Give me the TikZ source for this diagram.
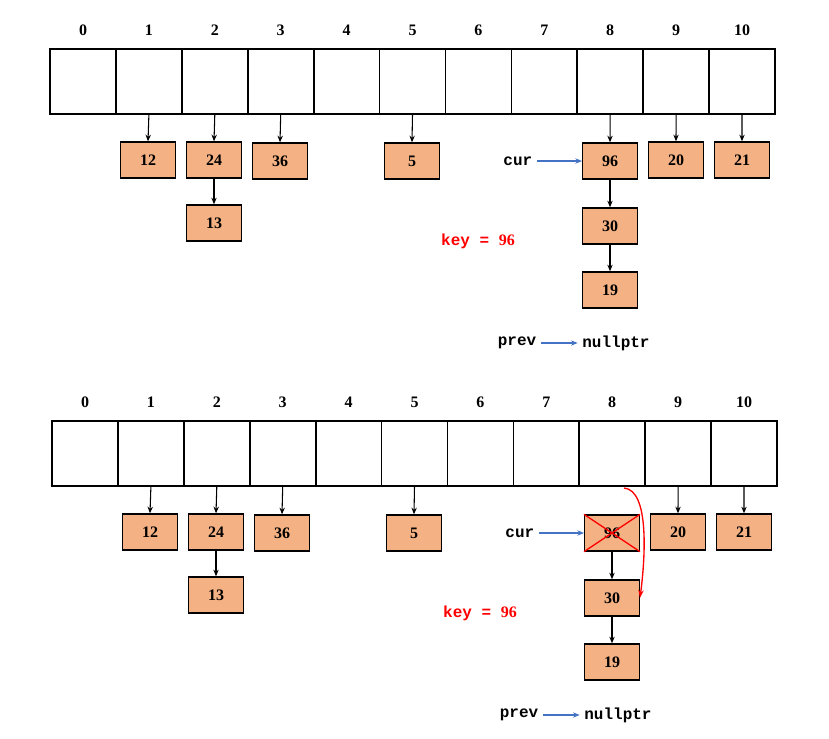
\documentclass[tikz,border=0pt]{standalone}
\usepackage{fontspec}
\setmainfont{Liberation Serif}
\newfontfamily\mono{Liberation Mono}
\usetikzlibrary{arrows.meta}
\begin{document}
\begin{tikzpicture}[x=0.75pt,y=-0.75pt,
  cell/.style={draw,line width=1.2pt,minimum width=49.5pt,minimum height=48.5pt,inner sep=0pt},
  box/.style={draw,line width=1pt,fill=orange!50!white,fill=boxc,minimum width=41pt,minimum height=27pt,inner sep=0pt,font=\bfseries\large},
  idx/.style={font=\bfseries\large},
  lnk/.style={-{Stealth[length=5pt,width=4pt]},line width=0.8pt},
  ptr/.style={-{Stealth[length=5pt,width=4pt]},line width=0.8pt,draw={rgb,255:red,68;green,114;blue,196}},
  lbl/.style={font=\mono\bfseries\large}]
\definecolor{boxc}{RGB}{244,177,131}
\useasboundingbox (0,0) rectangle (829,739);
\foreach \dx/\dy/\p in {0/0/a,2/372/b}{
  \begin{scope}[shift={(\dx,\dy)}]
  \foreach \i in {0,...,10}{
    \node[cell] (\p c\i) at (83+65.9*\i,81.5) {};
    \node[idx] at (83+65.9*\i,30) {\i};
  }
  \node[box] (\p n12) at (148,160) {12};
  \node[box] (\p n24) at (214,160) {24};
  \node[box] (\p n13) at (214,223) {13};
  \node[box] (\p n36) at (280,161) {36};
  \node[box] (\p n5) at (412,161) {5};
  \node[box] (\p n96) at (610,161) {96};
  \node[box] (\p n30) at (610,226) {30};
  \node[box] (\p n19) at (610,290) {19};
  \node[box] (\p n20) at (676,160) {20};
  \node[box] (\p n21) at (742,160) {21};
  \foreach \c/\n in {1/12,2/24,3/36,5/5,9/20,10/21}{
    \draw[lnk] (\p c\c.south) -- (\p n\n.north);
  }
  \draw[lnk] (\p n24) -- (\p n13);
  \draw[lnk] (\p n96) -- (\p n30);
  \draw[lnk] (\p n30) -- (\p n19);
  \node[lbl,anchor=east] (\p cur) at (537,161) {cur};
  \draw[ptr] (\p cur) -- (\p n96);
  \node[font=\mono\bfseries\large,text=red] (\p key) at (478,241) {key = {\rmfamily 96}};
  \node[lbl] (\p prev) at (517,343) {prev};
  \node[lbl] (\p null) at (616,343) {nullptr};
  \draw[ptr] (\p prev) -- (\p null);
  \end{scope}
}
\draw[lnk] (ac8.south) -- (an96.north);
\draw[line width=1pt,red] (bn96.north west) -- (bn96.south east) (bn96.south west) -- (bn96.north east);
\coordinate (rs) at (624,488);
\draw[line width=1pt,red,-{Stealth[length=6pt,width=4pt]}] (rs) .. controls (650,490) and (645,560) .. (bn30.east);
\end{tikzpicture}
\end{document}
